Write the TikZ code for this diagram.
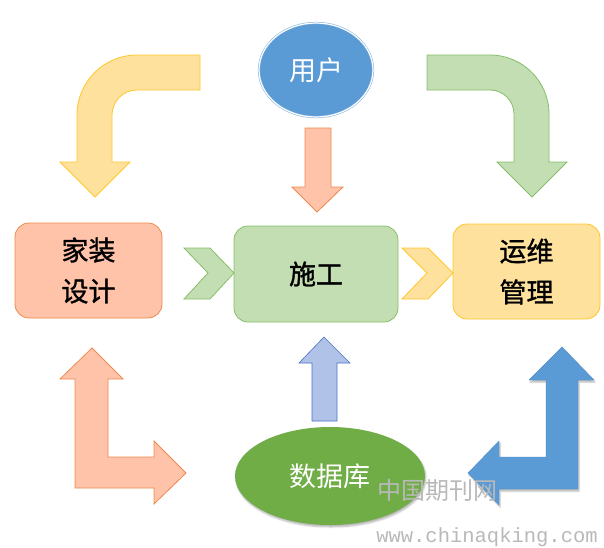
\documentclass[tikz,border=0pt]{standalone}
\usepackage{fontspec}
\newfontfamily\cjk{Noto Sans CJK SC}
\newfontfamily\cjkheavy{Noto Sans CJK SC}[FakeBold=1.2]
\newfontfamily\wmono{Liberation Mono}
\usetikzlibrary{shapes.geometric,shadows.blur}
\definecolor{salmonFill}{HTML}{FFC3AA}
\definecolor{salmonStroke}{HTML}{ED8A4C}
\definecolor{greenFill}{HTML}{C3DEB2}
\definecolor{greenStroke}{HTML}{86BE68}
\definecolor{yellowFill}{HTML}{FFE19E}
\definecolor{yellowStroke}{HTML}{FFC62A}
\definecolor{blueFill}{HTML}{5B9BD5}
\definecolor{blueStroke}{HTML}{4F8CC9}
\definecolor{lilacFill}{HTML}{B1C2E8}
\definecolor{lilacStroke}{HTML}{4A72C8}
\definecolor{dbGreen}{HTML}{70AD47}

\begin{document}
\begin{tikzpicture}[
  x=1pt,y=-1pt,
  font=\cjk\fontsize{27}{41}\selectfont,
  box/.style={rectangle,rounded corners=14pt,line width=.8pt,align=center,font=\cjkheavy\fontsize{27}{41}\selectfont},
  design/.style={box,draw=salmonStroke,fill=salmonFill,minimum width=147pt,minimum height=95pt},
  build/.style={box,draw=greenStroke,fill=greenFill,minimum width=164pt,minimum height=96pt},
  maint/.style={box,draw=yellowStroke,fill=yellowFill,minimum width=147pt,minimum height=95pt},
  userOval/.style={ellipse,fill=blueFill,draw=blueFill!80,double=white,double distance=1.2pt,line width=.5pt,minimum width=114pt,minimum height=94pt,text=white},
  dbOval/.style={ellipse,fill=dbGreen,minimum width=190pt,minimum height=98pt,text=white,blur shadow={shadow xshift=1pt,shadow yshift=-2pt,shadow opacity=30}},
  salmonArrow/.style={fill=salmonFill,draw=salmonStroke,line width=.8pt,line join=miter},
  greenArrow/.style={fill=greenFill,draw=greenStroke,line width=.8pt},
  yellowArrow/.style={fill=yellowFill,draw=yellowStroke,line width=.8pt},
  lilacArrow/.style={fill=lilacFill,draw=lilacStroke,line width=.6pt},
  blueArrow/.style={fill=blueFill,draw=blueStroke,line width=.4pt,blur shadow={shadow xshift=1pt,shadow yshift=-2pt,shadow opacity=30}},
  mark label/.style={text=gray!55}
]
\useasboundingbox (0,0) rectangle (604,547);
% the five stages, placed at pixel positions of the layout
\node[userOval] (user) at (316,70) {用户};
\node[design] (design) at (88.5,270.5) {家装\\设计};
\node[build] (build) at (316,274) {施工};
\node[maint] (maint) at (526.5,271.5) {运维\\管理};
\node[dbOval] (db) at (330,476) {数据库};

% block arrows between the stages
\draw[yellowArrow] (200,55) -- (137,55) arc[start angle=-90,end angle=-180,radius=60]
  -- (77,162) -- (60,162) -- (95,197) -- (130,162) -- (112,162) -- (112,115)
  arc[start angle=180,end angle=270,radius=25] -- (200,90) -- cycle;
\draw[greenArrow] (427,55) -- (490,55) arc[start angle=-90,end angle=0,radius=59]
  -- (549,162) -- (567,162) -- (532,197) -- (497,162) -- (514,162) -- (514,114)
  arc[start angle=0,end angle=-90,radius=24] -- (427,90) -- cycle;
\draw[salmonArrow] (305,128) -- (331,128) -- (331,187) -- (343,187) -- (317,212)
  -- (292,187) -- (305,187) -- cycle;
\draw[greenArrow] (184,248) -- (210,248) -- (234,273) -- (210,299) -- (184,299)
  -- (208,273) -- cycle;
\draw[yellowArrow] (402,248) -- (428,248) -- (453,273) -- (428,299) -- (402,299)
  -- (427,273) -- cycle;
\draw[lilacArrow] (312,421) -- (337,421) -- (337,363) -- (350,363) -- (324,337)
  -- (299,363) -- (312,363) -- cycle;
\draw[salmonArrow] (92,348) -- (123,379) -- (108,379) -- (108,457) -- (154,457)
  -- (154,441) -- (186,473) -- (154,504) -- (154,488) -- (75,488) -- (75,379)
  -- (60,379) -- cycle;
\draw[blueArrow] (562,347) -- (594,380) -- (578,380) -- (578,489) -- (499,489)
  -- (499,505) -- (468,473) -- (499,441) -- (499,457) -- (546,457) -- (546,380)
  -- (529,380) -- cycle;

% site mark
\node[mark label,font=\cjk\fontsize{24}{28}\selectfont] (markcn) at (437,490) {中国期刊网};
\node[mark label,font=\wmono\fontsize{20.5}{24}\selectfont] (markurl) at (487,537) {www.chinaqking.com};
\end{tikzpicture}
\end{document}
